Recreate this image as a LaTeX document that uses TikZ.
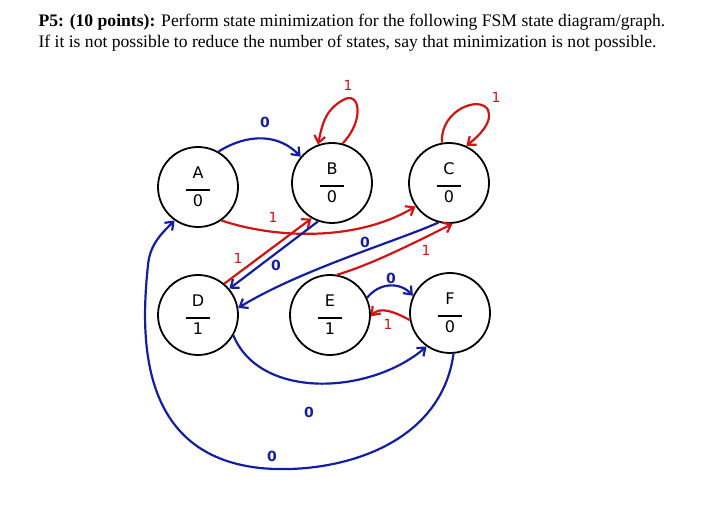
\documentclass[tikz,border=0pt]{standalone}
\usepackage{fontspec}
\setmainfont{Liberation Serif}
\setsansfont{DejaVu Sans}
\usetikzlibrary{arrows.meta}
\begin{document}
\begin{tikzpicture}[x=1pt,y=-1pt,
 st/.style={circle,draw,line width=1.8pt,minimum size=80pt,inner sep=0pt,align=center,font=\sffamily\fontsize{16}{19}\selectfont},
 bl/.style={draw={rgb,255:red,20;green,30;blue,160},line width=2.2pt,-{Straight Barb[length=7pt,width=11pt]}},
 rd/.style={draw={rgb,255:red,210;green,20;blue,20},line width=2.2pt,-{Straight Barb[length=7pt,width=11pt]}},
 bt/.style={text={rgb,255:red,20;green,30;blue,160},font=\sffamily\bfseries\fontsize{14}{17}\selectfont},
 rt/.style={text={rgb,255:red,210;green,20;blue,20},font=\sffamily\fontsize{14}{17}\selectfont}]
\useasboundingbox (0,0) rectangle (712,510);
\node[anchor=west,align=left,font=\fontsize{17.6}{21}\selectfont] (title) at (35,33)
 {\textbf{P5: (10 points):} Perform state minimization for the following FSM state diagram/graph.\\
 If it is not possible to reduce the number of states, say that minimization is not possible.};
\def\lab#1#2{#1\\[-7pt]\rule{24pt}{1.6pt}\\[-3pt]#2}
\node[st] (A) at (198,187) {\lab{A}{0}};
\node[st] (B) at (332,183) {\lab{B}{0}};
\node[st] (C) at (449,183) {\lab{C}{0}};
\node[st] (D) at (198,315) {\lab{D}{1}};
\node[st] (E) at (330,315) {\lab{E}{1}};
\node[st] (F) at (450,313) {\lab{F}{0}};
% A->B
\draw[bl] (A.60) .. controls (250,132) and (280,135) .. (B.140);
\node[bt] (l1) at (265,122) {0};
% B self loop
\draw[rd] (B.75) .. controls (365,120) and (360,90) .. (343,100) .. controls (325,110) and (322,125) .. (B.110);
\node[rt] (l2) at (348,85) {1};
% C self loop
\draw[rd] (C.100) .. controls (440,110) and (480,95) .. (488,110) .. controls (493,122) and (480,135) .. (C.65);
\node[rt] (l3) at (496,97) {1};
% A->C
\draw[rd] (A.-55) .. controls (280,240) and (360,240) .. (C.-145);
\node[rt] (l4) at (273,217) {1};
% D->B
\draw[rd] (D.50) -- (B.-120);
\node[rt] (l5) at (238,258) {1};
% B->D
\draw[bl] (B.-110) -- (D.40);
\node[bt] (l6) at (276,265) {0};
% C->D
\draw[bl] (C.-105) .. controls (400,240) and (300,270) .. (D.10);
\node[bt] (l7) at (365,242) {0};
% E->C
\draw[rd] (E.80) .. controls (370,265) and (410,245) .. (C.-85);
\node[rt] (l8) at (426,250) {1};
% E <-> F
\draw[bl] (E.25) .. controls (380,282) and (400,282) .. (F.155);
\node[bt] (l9) at (391,278) {0};
\draw[rd] (F.-170) .. controls (395,312) and (380,306) .. (E.-2);
\node[rt] (l10) at (388,324) {1};
% D->F
\draw[bl] (D.-30) .. controls (260,400) and (370,395) .. (F.-125);
\node[bt] (l11) at (309,412) {0};
% F->A
\draw[bl] (F.-85) .. controls (440,450) and (330,475) .. (260,468) .. controls (140,455) and (140,340) .. (148,265) .. controls (150,245) and (160,235) .. (A.-125);
\node[bt] (l12) at (272,456) {0};
\end{tikzpicture}
\end{document}
